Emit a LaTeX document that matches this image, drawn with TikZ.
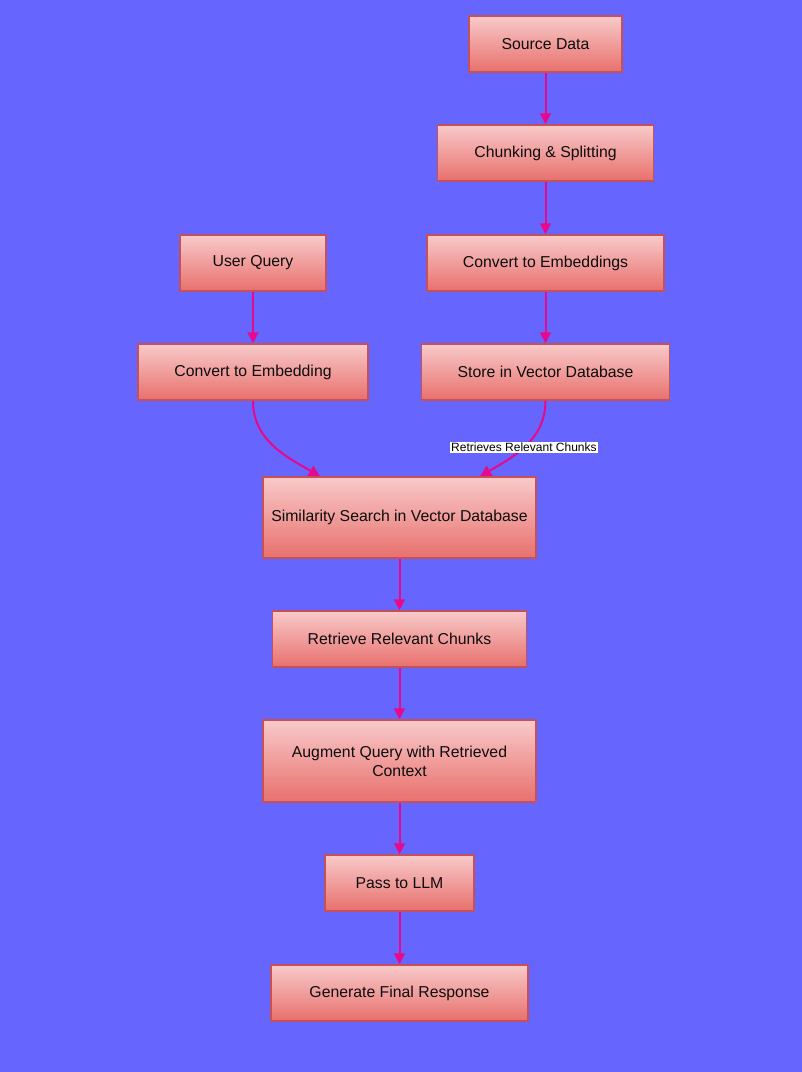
\documentclass[tikz,border=0pt]{standalone}
\usepackage{fontspec}
\setmainfont{Liberation Sans}
\usetikzlibrary{arrows.meta,positioning}

\definecolor{bgblue}{HTML}{6666FF}
\definecolor{boxtop}{HTML}{F8CACA}
\definecolor{boxbot}{HTML}{E8706C}
\definecolor{boxline}{HTML}{C4505C}
\definecolor{flowpink}{HTML}{E8088C}

\tikzset{
  stepbox/.style={draw=boxline, line width=1.5pt, top color=boxtop, bottom color=boxbot,
    minimum height=56pt, inner sep=0pt, align=center, text=black!95,
    font=\fontsize{15.8pt}{19pt}\selectfont},
  flow/.style={draw=flowpink, line width=2pt, -{Triangle[length=11pt,width=11pt]}},
  edgetag/.style={fill=white, inner sep=1pt, text=black, font=\fontsize{12pt}{14pt}\selectfont}
}

\begin{document}
\begin{tikzpicture}[x=1pt,y=-1pt]
\fill[bgblue] (0,0) rectangle (802,1072);
\useasboundingbox (0,0) rectangle (802,1072);

%Indexing side
\node[stepbox, minimum width=153pt] (source) at (545.5,44) {Source Data};
\node[stepbox, minimum width=216pt] (chunk) at (545.5,153) {Chunking \& Splitting};
\node[stepbox, minimum width=237pt] (embeds) at (545.5,263) {Convert to Embeddings};
\node[stepbox, minimum width=248pt] (store) at (545.5,372) {Store in Vector Database};

%Query side
\node[stepbox, minimum width=146pt] (query) at (253,263) {User Query};
\node[stepbox, minimum width=230pt] (qembed) at (253,372) {Convert to Embedding};

%Retrieval and generation
\node[stepbox, minimum width=273pt, minimum height=81pt] (search) at (399.5,517.5) {Similarity Search in Vector Database};
\node[stepbox, minimum width=254pt] (retrieve) at (399.5,639) {Retrieve Relevant Chunks};
\node[stepbox, minimum width=273pt, minimum height=82pt] (augment) at (399.5,761) {Augment Query with Retrieved\\Context};
\node[stepbox, minimum width=149pt] (llm) at (399.5,883) {Pass to LLM};
\node[stepbox, minimum width=257pt] (answer) at (399.5,993) {Generate Final Response};

\coordinate (searchL) at ([xshift=-79.5pt]search.north);
\coordinate (searchR) at ([xshift=80.5pt]search.north);

\draw[flow] (source) -- (chunk);
\draw[flow] (chunk) -- (embeds);
\draw[flow] (embeds) -- (store);
\draw[flow] (query) -- (qembed);
\draw[flow] (qembed.south) to[out=-90,in=150] (searchL);
\draw[flow] (store.south) to[out=-90,in=30] node[edgetag, pos=0.52] (tag) {Retrieves Relevant Chunks} (searchR);
\draw[flow] (search) -- (retrieve);
\draw[flow] (retrieve) -- (augment);
\draw[flow] (augment) -- (llm);
\draw[flow] (llm) -- (answer);
\end{tikzpicture}
\end{document}
